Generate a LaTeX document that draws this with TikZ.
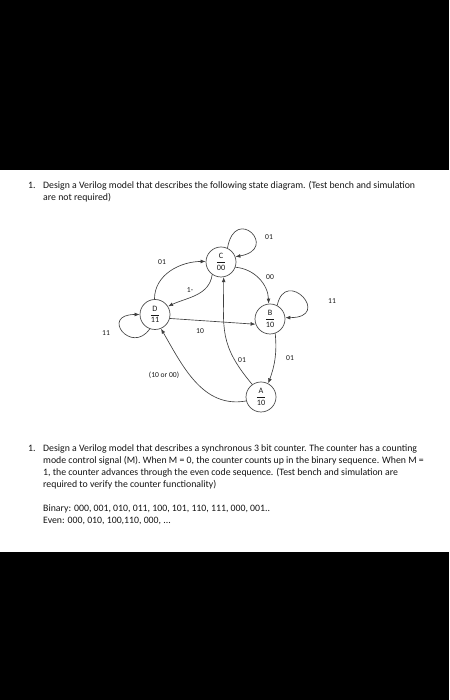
\documentclass[tikz,border=0pt]{standalone}
\usepackage{fontspec}
\setmainfont{Carlito}
\usepackage{amsmath}
\usetikzlibrary{arrows.meta}
\begin{document}
\begin{tikzpicture}[x=1pt,y=1pt,
  state/.style={circle,draw=black!70,line width=0.7pt,minimum size=30pt,inner sep=0pt,font=\fontsize{8.2}{9}\selectfont,text=black!90},
  conn/.style={draw=black!75,line width=0.65pt,-{Latex[length=5pt,width=3.8pt]}},
  lbl/.style={font=\fontsize{7.6}{8}\selectfont,text=black!90,inner sep=0pt},
  body/.style={font=\fontsize{9.8}{11}\selectfont,anchor=base west,inner sep=0pt,text=black!92}]
\useasboundingbox (0,0) rectangle (449,700);
\fill[black] (0,529.5) rectangle (449,700);
\fill[black] (0,0) rectangle (449,148);

% question 1
\node[body] (n1) at (28,511.5) {1.};
\node[body] (t1) at (43,511.5) {Design a Verilog model that describes the following state diagram. (Test bench and simulation};
\node[body] (t2) at (43,499.5) {are not required)};

% states
\node[state] (C) at (221,438) {$\dfrac{\mbox{C}}{\mbox{00}}$};
\node[state] (D) at (155,385.5) {$\dfrac{\mbox{D}}{\mbox{11}}$};
\node[state] (B) at (270,381) {$\dfrac{\mbox{B}}{\mbox{10}}$};
\node[state] (A) at (261,303) {$\dfrac{\mbox{A}}{\mbox{10}}$};

% self loops
\draw[conn] (C.65) .. controls +(80:45) and +(10:45) .. (C.20);
\draw[conn] (B.62) .. controls +(78:40) and +(0:48) .. (B.5);
\draw[conn] (D.250) .. controls +(235:32) and +(180:40) .. (D.180);

% transitions
\draw[conn] (D.92) to[out=90,in=180] (C.178);
\draw[conn] (C.235) to[out=262,in=25] (D.32);
\draw[conn] (C.340) to[out=-5,in=92] (B.95);
\draw[conn] (D.-15) -- (B.200);
\draw[conn] (A.125) to[out=130,in=270,looseness=1.2] (C.280);
\draw[conn] (B.290) to[out=275,in=70] (A.62);
\draw[conn] (A.195) to[out=190,in=300] (D.293);

% labels
\node[lbl] (l1) at (269,463) {01};
\node[lbl] (l2) at (332,399) {11};
\node[lbl] (l3) at (106,367) {11};
\node[lbl] (l4) at (162,438) {01};
\node[lbl] (l5) at (190,410) {1-};
\node[lbl] (l6) at (270,423) {00};
\node[lbl] (l7) at (200,369) {10};
\node[lbl] (l8) at (242,340) {01};
\node[lbl] (l9) at (290,342) {01};
\node[lbl] (l10) at (164,325) {(10 or 00)};

% question 2
\node[body] (n2) at (28,248.5) {1.};
\node[body] (s1) at (43,248.5) {Design a Verilog model that describes a synchronous 3 bit counter. The counter has a counting};
\node[body] (s2) at (43,236.5) {mode control signal (M). When M = 0, the counter counts up in the binary sequence. When M =};
\node[body] (s3) at (43,224.5) {1, the counter advances through the even code sequence. (Test bench and simulation are};
\node[body] (s4) at (43,212.5) {required to verify the counter functionality)};
\node[body] (s5) at (43,188.5) {Binary: 000, 001, 010, 011, 100, 101, 110, 111, 000, 001..};
\node[body] (s6) at (43,176.5) {Even: 000, 010, 100,110, 000, ...};
\end{tikzpicture}
\end{document}
